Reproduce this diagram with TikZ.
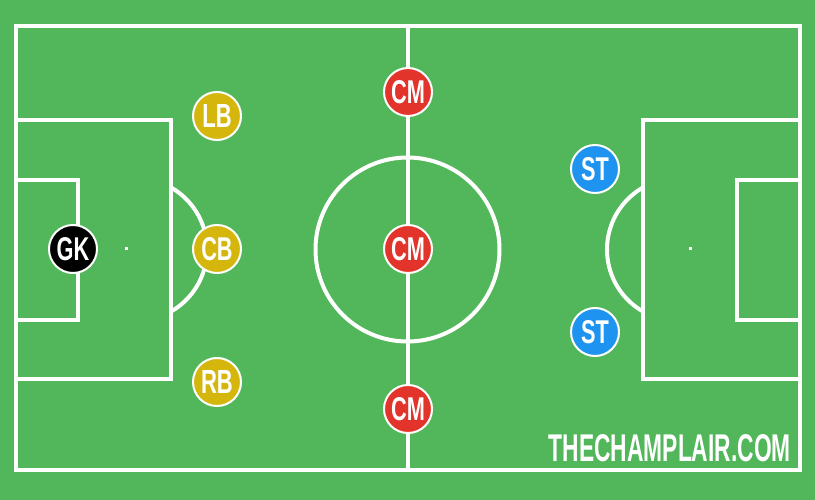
\documentclass[tikz,border=0pt]{standalone}
\usepackage{fontspec}
\usepackage{graphicx}
\newfontfamily\plfont{Liberation Sans}
\definecolor{pitch}{RGB}{82,182,90}
\definecolor{gkcol}{RGB}{0,0,0}
\definecolor{defcol}{RGB}{212,182,12}
\definecolor{midcol}{RGB}{226,52,42}
\definecolor{fwdcol}{RGB}{30,148,240}
\newcommand\pltxt[1]{\resizebox{!}{23pt}{\scalebox{0.66}[1]{#1}}}
\tikzset{
  pline/.style={draw=white, line width=4pt},
  player/.style={circle, draw=white, line width=2pt, fill=#1, minimum size=48pt, inner sep=0pt,
    text=white, font=\plfont\bfseries\fontsize{30}{30}\selectfont},
  spot/.style={fill=white, minimum size=3pt, inner sep=0pt},
}
\begin{document}
\begin{tikzpicture}[x=1pt,y=-1pt]
\fill[pitch] (0,0) rectangle (815,500);
\useasboundingbox (0,0) rectangle (815,500);
% outer lines
\draw[pline] (16,26) rectangle (800,470);
\draw[pline] (407.5,26) -- (407.5,470);
\draw[pline] (407.5,249.5) circle (92);
% left boxes
\draw[pline] (16,120) rectangle (171,379);
\draw[pline] (16,180) rectangle (78,320);
% right boxes
\draw[pline] (643,120) rectangle (800,379);
\draw[pline] (737,180) rectangle (800,320);
% penalty arcs
\begin{scope}
\clip (173,0) rectangle (400,500);
\draw[pline] (135.6,249.5) circle (71.4);
\end{scope}
\begin{scope}
\clip (415,0) rectangle (641,500);
\draw[pline] (678.4,249.5) circle (71.4);
\end{scope}
% penalty spots
\node[spot] (lspot) at (126,248.5) {};
\node[spot] (rspot) at (690,248.5) {};
% players
\node[player=gkcol] (gk) at (73,249) {\pltxt{GK}};
\node[player=defcol] (lb) at (217,116) {\pltxt{LB}};
\node[player=defcol] (cb) at (217,249) {\pltxt{CB}};
\node[player=defcol] (rb) at (217,382) {\pltxt{RB}};
\node[player=midcol] (cm1) at (408,92) {\pltxt{CM}};
\node[player=midcol] (cm2) at (408,249) {\pltxt{CM}};
\node[player=midcol] (cm3) at (408,409) {\pltxt{CM}};
\node[player=fwdcol] (st1) at (595,169) {\pltxt{ST}};
\node[player=fwdcol] (st2) at (595,332) {\pltxt{ST}};
% watermark
\node[text=white, inner sep=0pt, anchor=south east] (wm) at (791,462)
  {\resizebox{242pt}{27pt}{\plfont\bfseries THECHAMPLAIR.COM}};
\end{tikzpicture}
\end{document}
